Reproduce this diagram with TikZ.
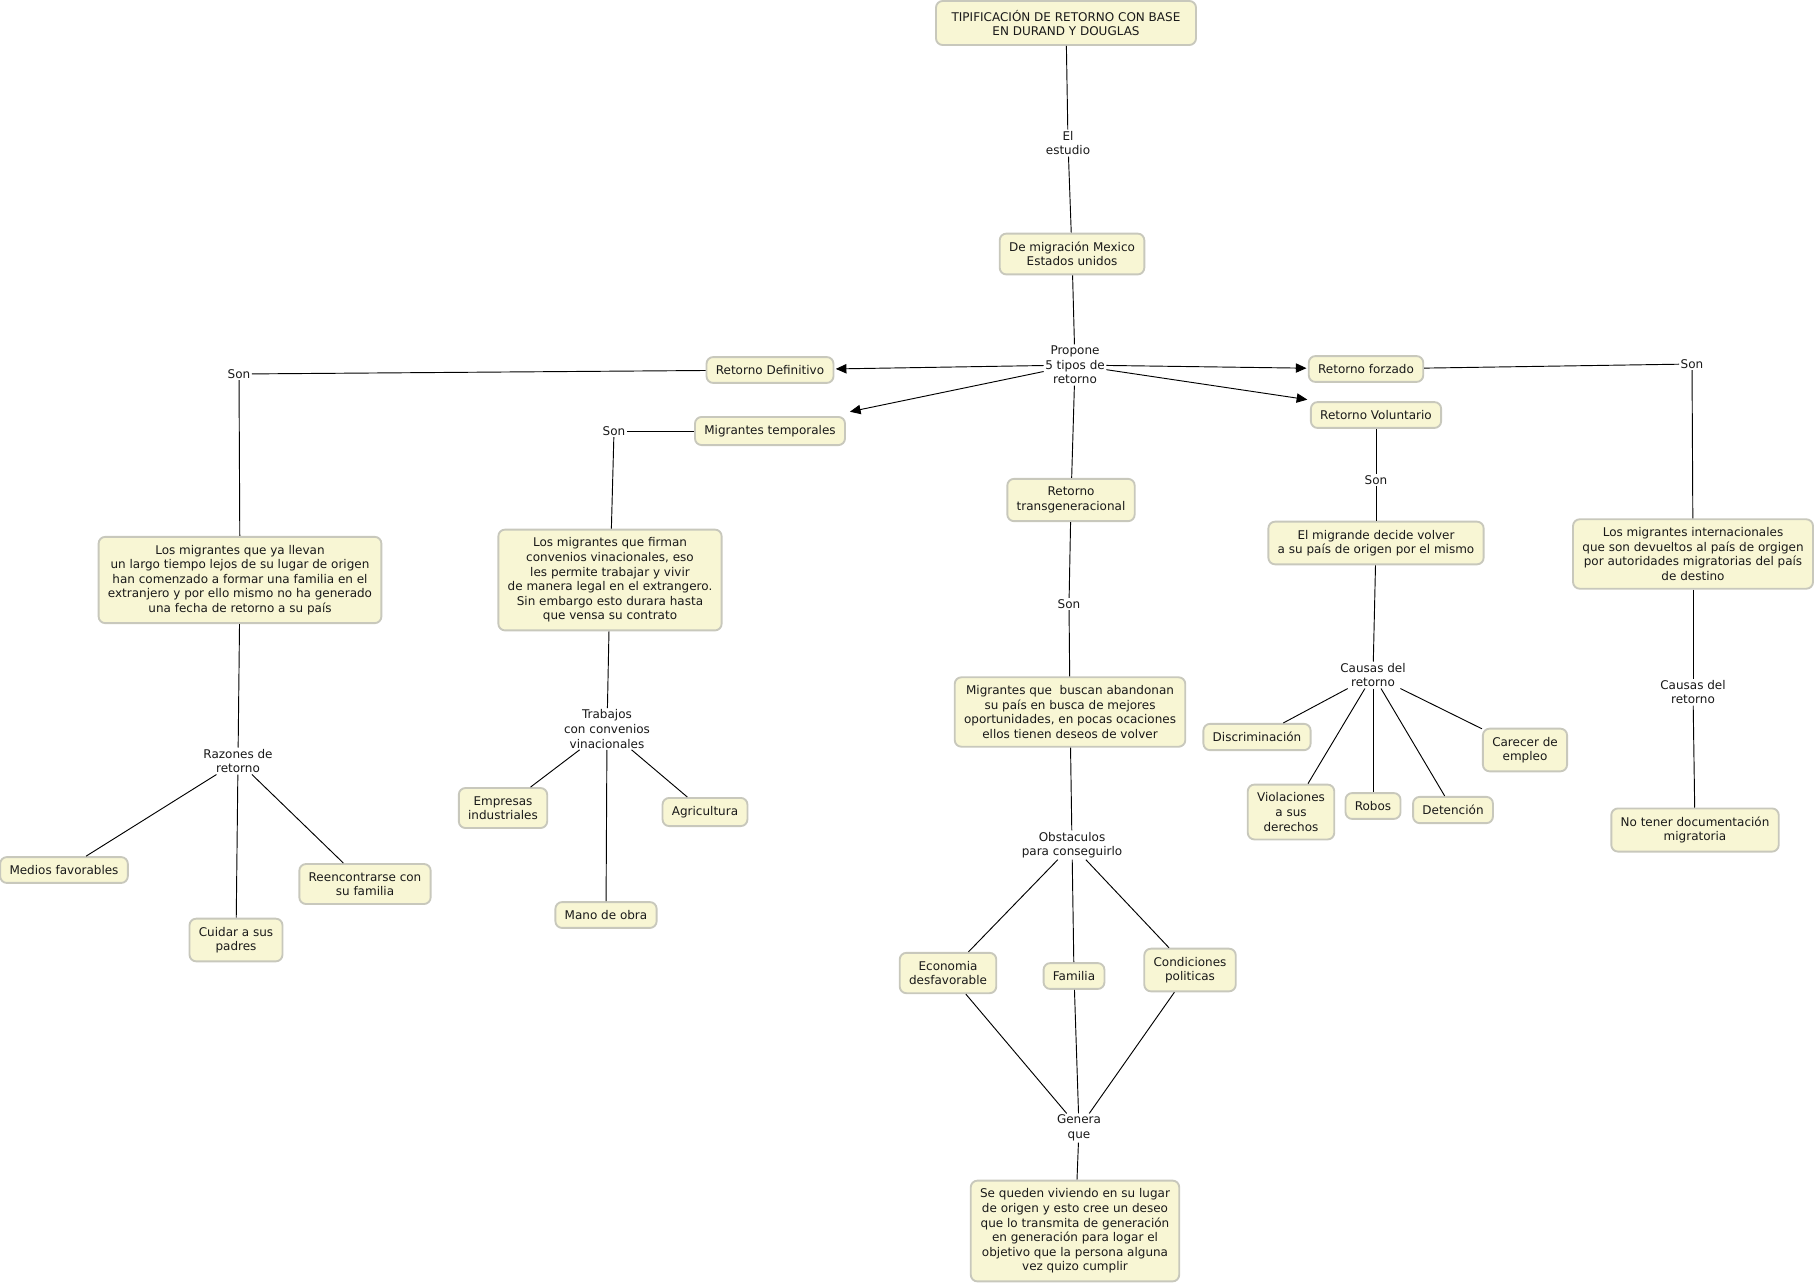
\documentclass[tikz,border=0pt]{standalone}
\usepackage{fontspec}
\setmainfont{DejaVu Sans}
\usetikzlibrary{arrows.meta}
\definecolor{boxfill}{RGB}{248,246,212}
\definecolor{boxline}{RGB}{200,200,188}
\begin{document}
\begin{tikzpicture}[x=0.75pt,y=-0.75pt,
  every node/.style={font=\fontsize{9pt}{10.9pt}\selectfont, align=center, text=black!90},
  concept/.style={draw=boxline, fill=boxfill, line width=1.4pt, rounded corners=5pt, inner xsep=7pt, inner ysep=6.2pt},
  link/.style={inner sep=1pt},
  conn/.style={line width=0.7pt, black},
  arr/.style={conn, -{Triangle[length=8pt,width=7pt]}, shorten >=1pt},
]
\useasboundingbox[fill=white] (0,0) rectangle (1816,1286);

% concepts
\node[concept, minimum width=195pt, minimum height=33pt] (title) at (1066,23) {TIPIFICACIÓN DE RETORNO CON BASE\\EN DURAND Y DOUGLAS};
\node[concept] (mig) at (1072,254) {De migración Mexico\\Estados unidos};
\node[concept] (def) at (770,370) {Retorno Definitivo};
\node[concept] (temp) at (770,431) {Migrantes temporales};
\node[concept] (trans) at (1071,500) {Retorno\\transgeneracional};
\node[concept] (forz) at (1366,369) {Retorno forzado};
\node[concept] (vol) at (1376,415) {Retorno Voluntario};
\node[concept] (llevan) at (240,580) {Los migrantes que ya llevan\\un largo tiempo lejos de su lugar de origen\\han comenzado a formar una familia en el\\extranjero y por ello mismo no ha generado\\una fecha de retorno a su país};
\node[concept] (firman) at (610,580) {Los migrantes que firman\\convenios vinacionales, eso\\les permite trabajar y vivir\\de manera legal en el extrangero.\\Sin embargo esto durara hasta\\que vensa su contrato};
\node[concept] (busca) at (1070,712) {Migrantes que\ \ buscan abandonan\\su país en busca de mejores\\oportunidades, en pocas ocaciones\\ellos tienen deseos de volver};
\node[concept] (decide) at (1376,543) {El migrande decide volver\\a su país de origen por el mismo};
\node[concept] (intl) at (1693,554) {Los migrantes internacionales\\que son devueltos al país de orgigen\\por autoridades migratorias del país\\de destino};
\node[concept] (medios) at (64,870) {Medios favorables};
\node[concept] (cuidar) at (236,940) {Cuidar a sus\\padres};
\node[concept] (reenc) at (365,884) {Reencontrarse con\\su familia};
\node[concept] (empr) at (503,808) {Empresas\\industriales};
\node[concept] (agri) at (705,812) {Agricultura};
\node[concept] (mano) at (606,915) {Mano de obra};
\node[concept] (econ) at (948,973) {Economia\\desfavorable};
\node[concept] (fam) at (1074,976) {Familia};
\node[concept] (cond) at (1190,970) {Condiciones\\politicas};
\node[concept] (queden) at (1075,1231) {Se queden viviendo en su lugar\\de origen y esto cree un deseo\\que lo transmita de generación\\en generación para logar el\\objetivo que la persona alguna\\vez quizo cumplir};
\node[concept] (discr) at (1257,737) {Discriminación};
\node[concept] (viol) at (1291,812) {Violaciones\\a sus\\derechos};
\node[concept] (robos) at (1373,806) {Robos};
\node[concept] (deten) at (1453,810) {Detención};
\node[concept] (carec) at (1525,750) {Carecer de\\empleo};
\node[concept] (nodoc) at (1695,830) {No tener documentación\\migratoria};

% linking phrases
\node[link] (estudio) at (1068,143) {El\\estudio};
\node[link] (propone) at (1075,365) {Propone\\5 tipos de\\retorno};
\node[link] (sonL) at (239,374) {Son};
\node[link] (sonT) at (614,431) {Son};
\node[link] (sonM) at (1069,604) {Son};
\node[link] (sonV) at (1376,480) {Son};
\node[link] (sonR) at (1692,364) {Son};
\node[link] (razones) at (238,761) {Razones de\\retorno};
\node[link] (trabajos) at (607,729) {Trabajos\\con convenios\\vinacionales};
\node[link] (obst) at (1072,845) {Obstaculos\\para conseguirlo};
\node[link] (genera) at (1079,1128) {Genera\\que};
\node[link] (causasV) at (1373,675) {Causas del\\retorno};
\node[link] (causasR) at (1693,692) {Causas del\\retorno};

% connectors
\draw[conn] (title) -- (estudio);
\draw[conn] (estudio) -- (mig);
\draw[conn] (mig) -- (propone);
\draw[arr] (propone) -- (def);
\draw[arr] (propone) -- ([shift={(2pt,3pt)}]temp.north east);
\draw[arr] (propone) -- (forz);
\draw[arr] (propone) -- ([shift={(-1pt,1pt)}]vol.north west);
\draw[conn] (propone) -- (trans);

\draw[conn] (def) -- (sonL);
\draw[conn] (sonL) -- (llevan);
\draw[conn] (llevan) -- (razones);
\draw[conn] (razones) -- (medios);
\draw[conn] (razones) -- (cuidar);
\draw[conn] (razones) -- (reenc);

\draw[conn] (temp) -- (sonT);
\draw[conn] (sonT) -- (firman);
\draw[conn] (firman) -- (trabajos);
\draw[conn] (trabajos) -- (empr);
\draw[conn] (trabajos) -- (mano);
\draw[conn] (trabajos) -- (agri);

\draw[conn] (trans) -- (sonM);
\draw[conn] (sonM) -- (busca);
\draw[conn] (busca) -- (obst);
\draw[conn] (obst) -- (econ);
\draw[conn] (obst) -- (fam);
\draw[conn] (obst) -- (cond);
\draw[conn] (econ) -- (genera);
\draw[conn] (fam) -- (genera);
\draw[conn] (cond) -- (genera);
\draw[conn] (genera) -- (queden);

\draw[conn] (vol) -- (sonV);
\draw[conn] (sonV) -- (decide);
\draw[conn] (decide) -- (causasV);
\draw[conn] (causasV) -- (discr);
\draw[conn] (causasV) -- (viol);
\draw[conn] (causasV) -- (robos);
\draw[conn] (causasV) -- (deten);
\draw[conn] (causasV) -- (carec);

\draw[conn] (forz) -- (sonR);
\draw[conn] (sonR) -- (intl);
\draw[conn] (intl) -- (causasR);
\draw[conn] (causasR) -- (nodoc);
\end{tikzpicture}
\end{document}
